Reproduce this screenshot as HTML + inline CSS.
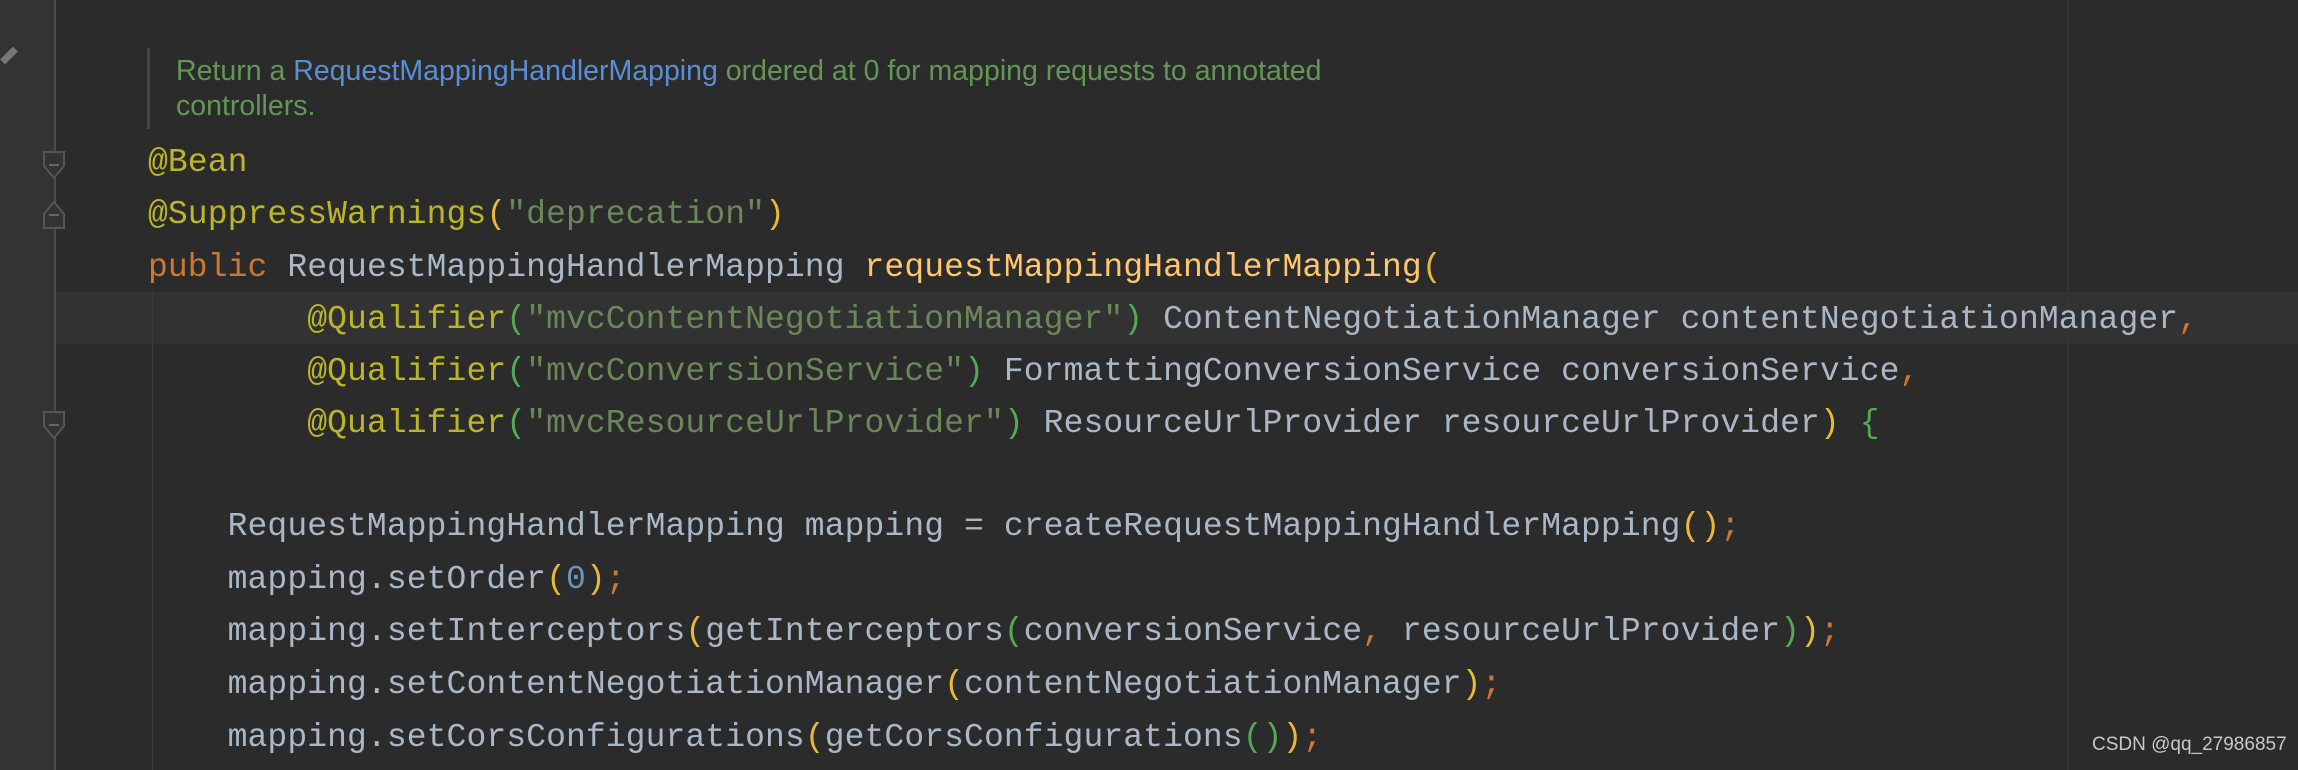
<!DOCTYPE html>
<html><head><meta charset="utf-8"><style>
body{margin:0;width:2298px;height:770px;background:#2b2b2b;overflow:hidden;position:relative}
.gut{position:absolute;left:0;top:0;width:54px;height:770px;background:#313335}
.gl{position:absolute;left:54px;top:0;width:2px;height:770px;background:#4a4a4a}
.hl{position:absolute;left:56px;top:292px;width:2242px;height:52px;background:#323232}
.rm{position:absolute;left:2067px;top:0;width:2px;height:770px;background:#333435}
.ig{position:absolute;left:152px;top:292px;width:1px;height:478px;background:#37402f}
.ln{position:absolute;left:148px;height:52px;line-height:52px;font-family:"Liberation Mono",monospace;font-size:33px;letter-spacing:0.1px;color:#a9b7c6;white-space:pre}
.a{color:#bbb529}.s{color:#6a8759}.k{color:#cc7832}.m{color:#ffc66d}.n{color:#6897bb}.y{color:#e8ba36}.g{color:#54a857}
.cm{position:absolute;left:176px;font-family:"Liberation Sans",sans-serif;font-size:28.5px;color:#629755;white-space:pre}
.cb{position:absolute;left:147px;top:48px;width:3px;height:81px;background:#3d4a35}
.wm{position:absolute;left:2092px;top:734px;font-family:"Liberation Sans",sans-serif;font-size:19px;color:#c8c8c8}
</style></head><body>
<div class="gut"></div><div class="gl"></div><div class="hl"></div><div class="rm"></div><div class="ig"></div>
<svg style="position:absolute;left:0;top:0" width="80" height="770">
<path d="M44 152 h20 v14 l-10 12 l-10 -12 z" fill="#313335" stroke="#555" stroke-width="2"/>
<path d="M44 228 h20 v-14 l-10 -12 l-10 12 z" fill="#313335" stroke="#555" stroke-width="2"/>
<path d="M44 412 h20 v14 l-10 12 l-10 -12 z" fill="#313335" stroke="#555" stroke-width="2"/>
<line x1="49" y1="165" x2="59" y2="165" stroke="#666" stroke-width="2"/>
<line x1="49" y1="215" x2="59" y2="215" stroke="#666" stroke-width="2"/>
<line x1="49" y1="425" x2="59" y2="425" stroke="#666" stroke-width="2"/>
</svg>
<div style="position:absolute;left:0;top:52px;width:18px;height:7px;background:#777;transform:rotate(-45deg)"></div>
<div class="cb"></div>
<div class="cm" style="top:55px">Return a <span style="color:#5a8fd6">RequestMappingHandlerMapping</span> ordered at 0 for mapping requests to annotated</div>
<div class="cm" style="top:90px">controllers.</div>
<div class="ln a" style="top:137px">@Bean</div>
<div class="ln" style="top:189px"><span class="a">@SuppressWarnings</span><span class="y">(</span><span class="s">"deprecation"</span><span class="y">)</span></div>
<div class="ln" style="top:242px"><span class="k">public </span>RequestMappingHandlerMapping <span class="m">requestMappingHandlerMapping</span><span class="y">(</span></div>
<div class="ln" style="top:294px">        <span class="a">@Qualifier</span><span class="g">(</span><span class="s">"mvcContentNegotiationManager"</span><span class="g">)</span> ContentNegotiationManager contentNegotiationManager<span class="k">,</span></div>
<div class="ln" style="top:346px">        <span class="a">@Qualifier</span><span class="g">(</span><span class="s">"mvcConversionService"</span><span class="g">)</span> FormattingConversionService conversionService<span class="k">,</span></div>
<div class="ln" style="top:398px">        <span class="a">@Qualifier</span><span class="g">(</span><span class="s">"mvcResourceUrlProvider"</span><span class="g">)</span> ResourceUrlProvider resourceUrlProvider<span class="y">)</span> <span class="g">{</span></div>
<div class="ln" style="top:501px">    RequestMappingHandlerMapping mapping = createRequestMappingHandlerMapping<span class="y">()</span><span class="k">;</span></div>
<div class="ln" style="top:554px">    mapping.setOrder<span class="y">(</span><span class="n">0</span><span class="y">)</span><span class="k">;</span></div>
<div class="ln" style="top:606px">    mapping.setInterceptors<span class="y">(</span>getInterceptors<span class="g">(</span>conversionService<span class="k">,</span> resourceUrlProvider<span class="g">)</span><span class="y">)</span><span class="k">;</span></div>
<div class="ln" style="top:659px">    mapping.setContentNegotiationManager<span class="y">(</span>contentNegotiationManager<span class="y">)</span><span class="k">;</span></div>
<div class="ln" style="top:712px">    mapping.setCorsConfigurations<span class="y">(</span>getCorsConfigurations<span class="g">()</span><span class="y">)</span><span class="k">;</span></div>
<div class="wm">CSDN @qq_27986857</div>
</body></html>
